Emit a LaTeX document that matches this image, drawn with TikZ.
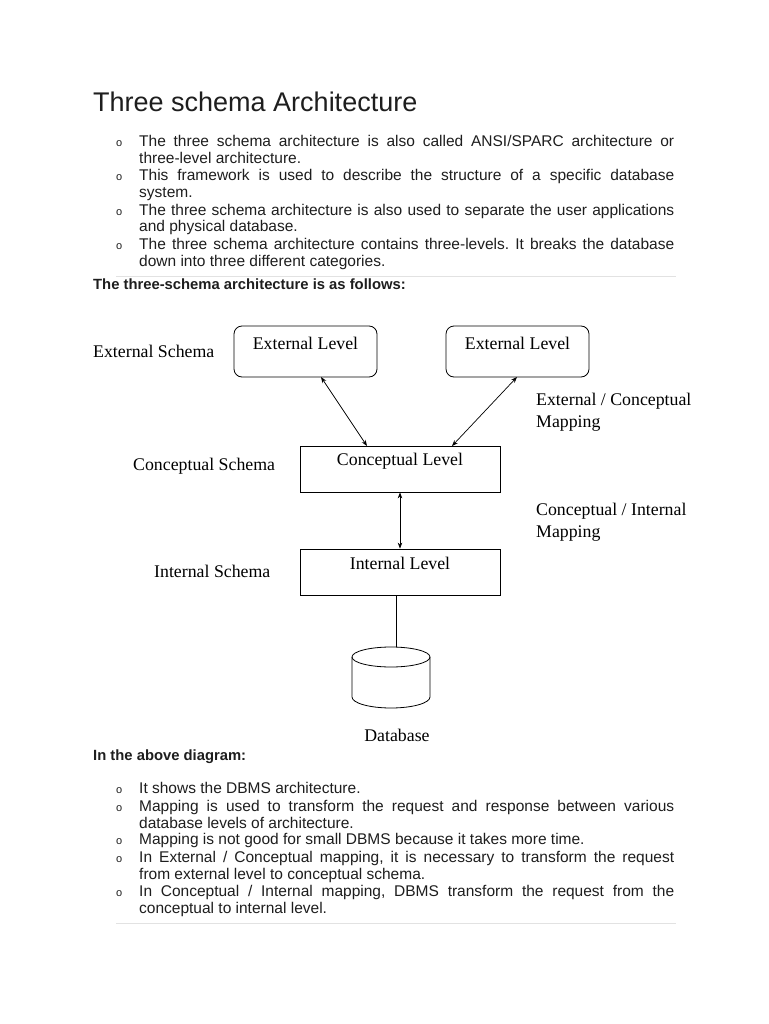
\documentclass[tikz,border=0pt]{standalone}
\usepackage{fontspec}
\setmainfont{Liberation Sans}
\newfontfamily\diagfont{Liberation Serif}
\usetikzlibrary{arrows.meta}
\definecolor{ink}{HTML}{1E1E1E}
\definecolor{rule}{HTML}{E2E2E2}
\frenchspacing
\begin{document}
\begin{tikzpicture}[x=1pt,y=-1pt,
  body/.style={font=\fontsize{15.5}{17}\selectfont, inner sep=0pt, anchor=base west, text=ink},
  bul/.style={font=\fontsize{11}{13}\selectfont, inner sep=0pt, anchor=base west, text=ink},
  head/.style={font=\bfseries\fontsize{14.8}{17}\selectfont, inner sep=0pt, anchor=base west, text=ink},
  dtext/.style={font=\diagfont\fontsize{17.8}{20}\selectfont, inner sep=0pt, text=black},
  rbox/.style={draw, line width=0.8pt, rounded corners=8pt, minimum width=143pt, minimum height=51pt, inner sep=0pt},
  sbox/.style={draw, line width=0.8pt, minimum width=200pt, minimum height=46pt, inner sep=0pt},
  dblarrow/.style={line width=0.7pt, {Stealth[length=6pt,width=4.5pt]}-{Stealth[length=6pt,width=4.5pt]}},
  sep/.style={draw=rule, line width=0.8pt}
]
\useasboundingbox (0,0) rectangle (768,1024);
\fill[white] (0,0) rectangle (768,1024);

% title
\node[inner sep=0pt, anchor=base west, text=ink, font=\fontsize{27}{32}\selectfont] (title) at (93,112) {Three schema Architecture};

% first list
\def\JW{535pt}
\node[bul] (b1) at (116,147) {o};
\node[body] (l1) at (139,147) {\makebox[\JW][s]{The three schema architecture is also called ANSI/SPARC architecture or}};
\node[body] (l2) at (139,164) {three-level architecture.};
\node[bul] (b2) at (116,181) {o};
\node[body] (l3) at (139,181) {\makebox[\JW][s]{This framework is used to describe the structure of a specific database}};
\node[body] (l4) at (139,198) {system.};
\node[bul] (b3) at (116,215) {o};
\node[body] (l5) at (139,215) {\makebox[\JW][s]{The three schema architecture is also used to separate the user applications}};
\node[body] (l6) at (139,232) {and physical database.};
\node[bul] (b4) at (116,249) {o};
\node[body] (l7) at (139,249) {\makebox[\JW][s]{The three schema architecture contains three-levels. It breaks the database}};
\node[body] (l8) at (139,266) {down into three different categories.};

\coordinate (s1a) at (116,276);
\coordinate (s1b) at (676,276);
\draw[sep] (s1a) -- (s1b);

\node[head] (h1) at (93,289) {The three-schema architecture is as follows:};

% diagram
\node[rbox] (ext1) at (305.5,351.5) {};
\node[rbox] (ext2) at (517.5,351.5) {};
\node[dtext] (ext1t) at (305.5,343) {External Level};
\node[dtext] (ext2t) at (517.5,343) {External Level};
\node[sbox] (con) at (400,469) {};
\node[dtext] (cont) at (400,461) {Conceptual Level};
\node[sbox] (int) at (400,572) {};
\node[dtext] (intt) at (400,563) {Internal Level};

\node[dtext, anchor=west] (exs) at (93,351) {External Schema};
\node[dtext, anchor=west] (cos) at (133,466) {Conceptual Schema};
\node[dtext, anchor=west] (ins) at (154,571) {Internal Schema};
\node[dtext, anchor=west] (ecm) at (536,401) {External / Conceptual};
\node[dtext, anchor=west] (ecm2) at (536,424) {Mapping};
\node[dtext, anchor=west] (cim) at (536,511) {Conceptual / Internal};
\node[dtext, anchor=west] (cim2) at (536,534) {Mapping};

\coordinate (a1s) at (321,377);
\coordinate (a1e) at (367,446);
\coordinate (a2s) at (517,377);
\coordinate (a2e) at (452,446);
\draw[dblarrow] (a1s) -- (a1e);
\draw[dblarrow] (a2s) -- (a2e);
\draw[dblarrow] (con.south) -- (int.north);

% database cylinder
\coordinate (dbtop) at (396,647);
\draw[line width=0.8pt] (int.south -| dbtop) -- (dbtop);
\draw[line width=0.8pt] (391,657) ellipse [x radius=39, y radius=10];
\draw[line width=0.8pt] (352,657) -- (352,697) arc [start angle=180, end angle=0, x radius=39, y radius=11] -- (430,657);
\node[dtext] (db) at (397,735) {Database};

\node[head] (h2) at (93,760) {In the above diagram:};

% second list
\node[bul] (c1) at (116,793) {o};
\node[body] (m1) at (139,793) {It shows the DBMS architecture.};
\node[bul] (c2) at (116,811) {o};
\node[body] (m2) at (139,811) {\makebox[\JW][s]{Mapping is used to transform the request and response between various}};
\node[body] (m3) at (139,828) {database levels of architecture.};
\node[bul] (c3) at (116,844) {o};
\node[body] (m4) at (139,844) {Mapping is not good for small DBMS because it takes more time.};
\node[bul] (c4) at (116,862) {o};
\node[body] (m5) at (139,862) {\makebox[\JW][s]{In External / Conceptual mapping, it is necessary to transform the request}};
\node[body] (m6) at (139,879) {from external level to conceptual schema.};
\node[bul] (c5) at (116,896) {o};
\node[body] (m7) at (139,896) {\makebox[\JW][s]{In Conceptual / Internal mapping, DBMS transform the request from the}};
\node[body] (m8) at (139,913) {conceptual to internal level.};

\coordinate (s2a) at (116,923);
\coordinate (s2b) at (676,923);
\draw[sep] (s2a) -- (s2b);
\end{tikzpicture}
\end{document}
